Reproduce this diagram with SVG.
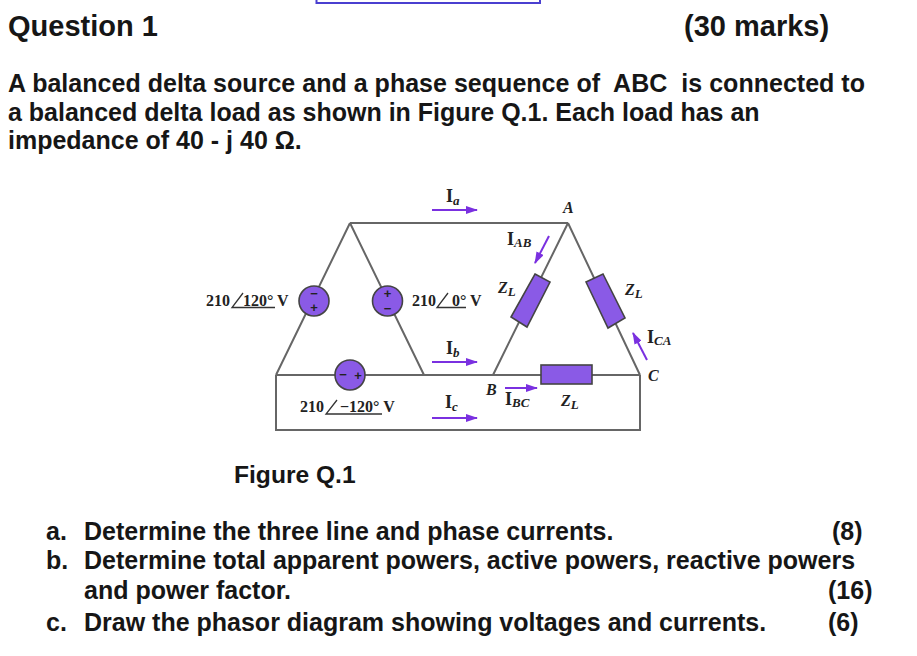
<svg xmlns="http://www.w3.org/2000/svg" width="917" height="656" viewBox="0 0 917 656">
<style>
.t{font-family:"Liberation Sans",Arial,sans-serif;font-weight:700;font-size:25px;fill:#161616}
.h{font-size:29px}
.c{font-family:"Liberation Serif","Times New Roman",serif;font-weight:700;font-size:16px;fill:#222}
.l{font-size:18px}
.i{font-style:italic}
.s{font-size:13px}
.w{fill:none;stroke:#666;stroke-width:2}
.u{fill:none;stroke:#333;stroke-width:1.3}
.el{fill:#8a5ae6;stroke:#444;stroke-width:1.6}
.sg{font-family:"Liberation Sans",Arial,sans-serif;font-size:13px;font-weight:700;fill:#222;text-anchor:middle}
.a{fill:none;stroke:#7a30e0;stroke-width:2;marker-end:url(#ah)}
</style>
<defs>
<marker id="ah" markerWidth="12" markerHeight="8" refX="11" refY="4" orient="auto" markerUnits="userSpaceOnUse"><path d="M0 0L12 4L0 8Z" fill="#7a30e0"/></marker>
</defs>
<rect width="917" height="656" fill="#fff"/>
<path d="M316.500 0V3H540V0" fill="none" stroke="#4a3fd0" stroke-width="2"/>
<g id="text-block">
<text class="t h" x="8" y="36">Question 1</text>
<text class="t h" x="684" y="36">(30 marks)</text>
<text class="t" x="8" y="92" xml:space="preserve" textLength="857">A balanced delta source and a phase sequence of  ABC  is connected to</text>
<text class="t" x="8" y="121">a balanced delta load as shown in Figure Q.1. Each load has an</text>
<text class="t" x="8" y="149">impedance of 40 - j 40 Ω.</text>
<text class="t" x="234" y="483" style="font-size:24.600px">Figure Q.1</text>
<text class="t" x="46" y="540">a.</text><text class="t" x="84" y="540">Determine the three line and phase currents.</text><text class="t" x="832" y="540">(8)</text>
<text class="t" x="46" y="569">b.</text><text class="t" x="84" y="569">Determine total apparent powers, active powers, reactive powers</text>
<text class="t" x="84" y="599">and power factor.</text><text class="t" x="828" y="599">(16)</text>
<text class="t" x="46" y="631">c.</text><text class="t" x="84" y="631">Draw the phasor diagram showing voltages and currents.</text><text class="t" x="828" y="631">(6)</text>
</g>
<g id="connectors">
<path class="w" d="M350 223H568M350 223L276 375M350 223L424 375M276 375H640M568 223L493 375M568 223L640 375M276 375V430H640V375"/>
<path class="a" d="M432 210H477"/>
<path class="a" d="M432 362H477"/>
<path class="a" d="M432 418H477"/>
<path class="a" d="M505 388H537"/>
<path class="a" d="M549 236L535 263"/>
<path class="a" d="M647 360L633 333"/>
</g>
<g id="source-ca"><circle class="el" cx="314" cy="301" r="15"/><text class="sg" x="314" y="297.500">−</text><text class="sg" x="314" y="312.300">+</text>
<text class="c" x="206" y="306">210</text><path class="u" d="M243 293L232 307.500H275"/><text class="c" x="243" y="306">120° V</text></g>
<g id="source-ab"><circle class="el" cx="387.500" cy="301" r="15"/><text class="sg" x="387.500" y="298.300">+</text><text class="sg" x="387.500" y="313.300">−</text>
<text class="c" x="412" y="306">210</text><path class="u" d="M448 293L437 307.500H466"/><text class="c" x="452" y="306">0° V</text></g>
<g id="source-bc"><circle class="el" cx="350" cy="375" r="15"/><text class="sg" x="343" y="379">−</text><text class="sg" x="358" y="379.500">+</text>
<text class="c" x="300" y="412">210</text><path class="u" d="M337 400L326 414H382"/><text class="c" x="340" y="412">−120° V</text></g>
<g id="load-ab"><polygon class="el" points="535,274 550,282 527,327 511,317"/><text class="c i" x="498" y="293">Z<tspan class="s" dy="3">L</tspan></text></g>
<g id="load-ca"><polygon class="el" points="586,282 603,274 625,318 608,328"/><text class="c i" x="625" y="295">Z<tspan class="s" dy="3">L</tspan></text></g>
<g id="load-bc"><rect class="el" x="541" y="365" width="51" height="19"/><text class="c i" x="561" y="406">Z<tspan class="s" dy="3">L</tspan></text></g>
<g id="labels">
<text class="c l" x="446" y="202">I<tspan class="s i" dy="3">a</tspan></text>
<text class="c l" x="446" y="354">I<tspan class="s i" dy="3">b</tspan></text>
<text class="c l" x="445" y="408">I<tspan class="s i" dy="3">c</tspan></text>
<text class="c l" x="507" y="245">I<tspan class="s i" dy="2">AB</tspan></text>
<text class="c l" x="647" y="343">I<tspan class="s i" dy="2">CA</tspan></text>
<text class="c l" x="505" y="405">I<tspan class="s i" dy="2">BC</tspan></text>
<text class="c i" x="563" y="213">A</text>
<text class="c i" x="486" y="395">B</text>
<text class="c i" x="648" y="381">C</text>
</g>
</svg>
